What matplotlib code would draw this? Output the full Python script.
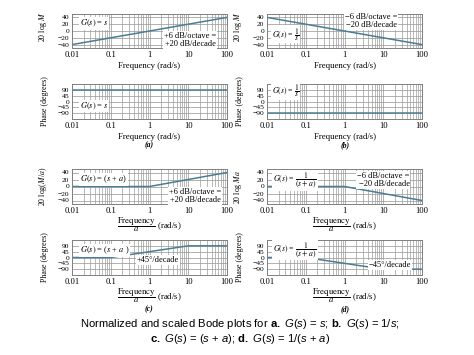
import matplotlib.pyplot as plt
from matplotlib.ticker import LogLocator, NullFormatter

plt.rcParams['font.family'] = 'Liberation Serif'
plt.rcParams['mathtext.fontset'] = 'stix'

# asymptotic Bode data
freq_ab = [0.01, 100]
mag_a = [-40, 40]
phase_a = [90, 90]
mag_b = [40, -40]
phase_b = [-90, -90]

freq_mag_cd = [0.01, 1, 100]
mag_c = [0, 0, 40]
mag_d = [0, 0, -40]
freq_phase_cd = [0.01, 0.1, 10, 100]
phase_c = [0, 0, 90, 90]
phase_d = [0, 0, -90, -90]

freq_ticks = [0.01, 0.1, 1, 10, 100]
freq_labels = ['0.01', '0.1', '1', '10', '100']
mag_ticks = [40, 20, 0, -20, -40]
mag_labels = ['40', '20', '0', '\u221220', '\u221240']
phase_ticks = [90, 45, 0, -45, -90]
phase_labels = ['90', '45', '0', '\u221245', '\u221290']

W, H = 474, 355
LINE = '#4a7d96'
GRID = '#9c9c9c'
FS = 6.2

fig = plt.figure(figsize=(4.74, 3.55), dpi=100)


def make_ax(x0, x1, y0, y1):
    return fig.add_axes([x0 / W, 1 - y1 / H, (x1 - x0) / W, (y1 - y0) / H])


def style(ax, yt, yl, ylim, xlabel, ylabel, ylab_y=0.5, xpad=1.5):
    ax.set_xscale('log')
    ax.set_xlim(0.01, 100)
    ax.set_ylim(*ylim)
    ax.set_xticks(freq_ticks)
    ax.set_xticklabels(freq_labels)
    ax.xaxis.set_minor_locator(LogLocator(base=10, subs=range(2, 10)))
    ax.xaxis.set_minor_formatter(NullFormatter())
    ax.set_yticks(yt)
    ax.set_yticklabels(yl)
    ax.tick_params(which='both', length=0, labelsize=FS, pad=2.5)
    ax.tick_params(axis='y', labelsize=5.4, pad=2)
    ax.grid(True, which='major', color=GRID, lw=0.55)
    ax.grid(True, which='minor', axis='x', color=GRID, lw=0.5)
    for s in ax.spines.values():
        s.set_color('#808080')
        s.set_linewidth(0.7)
    ax.set_xlabel(xlabel, fontsize=6.3, labelpad=xpad)
    ax.set_ylabel(ylabel, fontsize=5.7, labelpad=1)
    ax.yaxis.set_label_coords(-0.15, ylab_y)


def note(ax, x, y, s, ha='left', fs=FS - 0.2):
    ax.text(x, y, s, transform=ax.transAxes, fontsize=fs, ha=ha, va='center',
            linespacing=1.0,
            bbox=dict(facecolor='white', edgecolor='none', pad=0.6))


xlab_plain = 'Frequency (rad/s)'
xlab_frac = r'$\dfrac{\mathrm{Frequency}}{a}$ (rad/s)'
mag_lim = (-50, 50)
ph_lim = (-135, 135)

# (a)
ax = make_ax(72, 227, 14, 48)
ax.plot(freq_ab, mag_a, color=LINE, lw=1.1)
style(ax, mag_ticks, mag_labels, mag_lim, xlab_plain, r'20 log $M$', 0.62)
note(ax, 0.05, 0.71, r'$G(s)$ = $s$')
note(ax, 0.93, 0.23, '+6 dB/octave =\n+20 dB/decade', ha='right')

ax = make_ax(72, 227, 84, 119)
ax.plot(freq_ab, phase_a, color=LINE, lw=1.1)
style(ax, phase_ticks, phase_labels, ph_lim, xlab_plain, 'Phase (degrees)')
note(ax, 0.05, 0.37, r'$G(s)$ = $s$')

# (b)
ax = make_ax(267, 422, 14, 48)
ax.plot(freq_ab, mag_b, color=LINE, lw=1.1)
style(ax, mag_ticks, mag_labels, mag_lim, xlab_plain, r'20 log $M$', 0.62)
note(ax, 0.03, 0.40, r'$G(s)$ = $\dfrac{1}{s}$', fs=5.6)
note(ax, 0.84, 0.78, '\u22126 dB/octave =\n\u221220 dB/decade', ha='right')

ax = make_ax(267, 422, 84, 119)
ax.plot(freq_ab, phase_b, color=LINE, lw=1.1)
style(ax, phase_ticks, phase_labels, ph_lim, xlab_plain, 'Phase (degrees)')
note(ax, 0.03, 0.80, r'$G(s)$ = $\dfrac{1}{s}$', fs=5.6)

# (c)
ax = make_ax(72, 227, 169, 204)
ax.plot(freq_mag_cd, mag_c, color=LINE, lw=1.1)
style(ax, mag_ticks, mag_labels, mag_lim, xlab_frac, r'20 log($M$/$a$)', xpad=0)
note(ax, 0.05, 0.7, r'$G(s)$ = ($s$ + $a$)')
note(ax, 0.96, 0.22, '+6 dB/octave =\n+20 dB/decade', ha='right')

ax = make_ax(72, 227, 240, 275)
ax.plot(freq_phase_cd, phase_c, color=LINE, lw=1.1)
style(ax, phase_ticks, phase_labels, ph_lim, xlab_frac, 'Phase (degrees)', xpad=0)
note(ax, 0.05, 0.7, r'$G(s)$ = ($s$ + $a$ )')
note(ax, 0.42, 0.43, '+45\u00b0/decade')

# (d)
ax = make_ax(267, 422, 169, 204)
ax.plot(freq_mag_cd, mag_d, color=LINE, lw=1.1)
style(ax, mag_ticks, mag_labels, mag_lim, xlab_frac, r'20 log $Ma$', xpad=0)
note(ax, 0.04, 0.68, r'$G(s)$ = $\dfrac{1}{(s+a)}$', fs=5.6)
note(ax, 0.92, 0.68, '\u22126 dB/octave =\n\u221220 dB/decade', ha='right')

ax = make_ax(267, 422, 240, 275)
ax.plot(freq_phase_cd, phase_d, color=LINE, lw=1.1)
style(ax, phase_ticks, phase_labels, ph_lim, xlab_frac, 'Phase (degrees)', xpad=0)
note(ax, 0.04, 0.72, r'$G(s)$ = $\dfrac{1}{(s+a)}$', fs=5.6)
note(ax, 0.93, 0.29, '\u221245\u00b0/decade', ha='right')

# panel letters
for x, y, s in [(149, 145, '(a)'), (345, 145, '(b)'), (149, 309, '(c)'), (345, 309, '(d)')]:
    fig.text(x / W, 1 - y / H, s, fontsize=5.6, style='italic', weight='bold',
             ha='center', va='center')

# caption
plt.rcParams['mathtext.rm'] = 'Liberation Sans'
plt.rcParams['mathtext.it'] = 'Liberation Sans:italic'
plt.rcParams['mathtext.bf'] = 'Liberation Sans:bold'
cap1 = (r'Normalized and scaled Bode plots for $\mathbf{a.}$ $\mathit{G}$($\mathit{s}$) = $\mathit{s}$; '
        r'$\mathbf{b.}$ $\mathit{G}$($\mathit{s}$) = 1/$\mathit{s}$;')
cap2 = (r'$\mathbf{c.}$ $\mathit{G}$($\mathit{s}$) = ($\mathit{s}$ + $\mathit{a}$); '
        r'$\mathbf{d.}$ $\mathit{G}$($\mathit{s}$) = 1/($\mathit{s}$ + $\mathit{a}$)')
for y, s in [(324, cap1), (339, cap2)]:
    fig.text(240 / W, 1 - y / H, s, fontsize=8.1, family='Liberation Sans',
             math_fontfamily='custom', ha='center', va='center')

fig.savefig('out.png', dpi=100)
